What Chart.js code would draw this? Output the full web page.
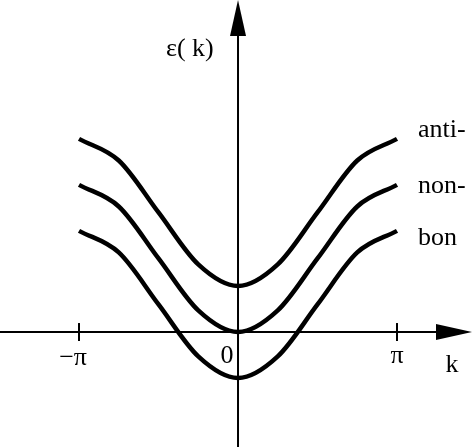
<!DOCTYPE html>
<html><head><meta charset="utf-8">
<script src="https://cdn.jsdelivr.net/npm/chart.js@4"></script>
<style>html,body{margin:0;padding:0;background:#fff}#w{width:474px;height:447px}</style>
</head><body><div id="w"><canvas id="c"></canvas></div>
<script>
const PI = Math.PI;
const kValues = [-PI, -0.75*PI, -0.5*PI, -0.25*PI, 0, 0.25*PI, 0.5*PI, 0.75*PI, PI];
const antiBonding = [4.2, 3.73, 2.6, 1.47, 1.0, 1.47, 2.6, 3.73, 4.2];
const nonBonding  = [3.2, 2.73, 1.6, 0.47, 0.0, 0.47, 1.6, 2.73, 3.2];
const bonding     = [2.2, 1.73, 0.6, -0.53, -1.0, -0.53, 0.6, 1.73, 2.2];
const seriesLabels = ['anti-', 'non-', 'bon'];
const tickLabels = ['\u2212\u03c0', '0', '\u03c0'];
const yTitle = '\u03b5( k)';
const xTitle = 'k';

const mk = (arr) => ({data: kValues.map((k,i)=>({x:k,y:arr[i]})), borderColor:'#000', borderWidth:4.5,
  pointRadius:0, fill:false, cubicInterpolationMode:'monotone'});

const deco = {
  id:'deco',
  afterDatasetsDraw(chart){
    const {ctx, scales:{x,y}} = chart;
    const x0 = x.getPixelForValue(0), y0 = y.getPixelForValue(0);
    ctx.save();
    ctx.strokeStyle='#000'; ctx.fillStyle='#000'; ctx.lineWidth=2;
    ctx.beginPath(); ctx.moveTo(0,y0); ctx.lineTo(455,y0); ctx.stroke();
    ctx.beginPath(); ctx.moveTo(x0,447); ctx.lineTo(x0,18); ctx.stroke();
    ctx.beginPath(); ctx.moveTo(472,y0); ctx.lineTo(436,y0-8); ctx.lineTo(436,y0+8); ctx.closePath(); ctx.fill();
    ctx.beginPath(); ctx.moveTo(x0,0); ctx.lineTo(x0-8,36); ctx.lineTo(x0+8,36); ctx.closePath(); ctx.fill();
    [-PI,PI].forEach(v=>{const px=x.getPixelForValue(v); ctx.beginPath(); ctx.moveTo(px,y0-9); ctx.lineTo(px,y0+9); ctx.stroke();});
    ctx.font='26px "Liberation Serif"'; ctx.textBaseline='alphabetic';
    ctx.textAlign='center';
    ctx.fillText(tickLabels[0], x.getPixelForValue(-PI)-6, y0+33);
    ctx.fillText(tickLabels[1], x0-11, y0+31);
    ctx.fillText(tickLabels[2], x.getPixelForValue(PI), y0+31);
    ctx.fillText(xTitle, 452, y0+40);
    ctx.textAlign='left';
    ctx.fillText(yTitle, 166, 56);
    ctx.fillText(seriesLabels[0], 418, y.getPixelForValue(antiBonding[8])+-2);
    ctx.fillText(seriesLabels[1], 418, y.getPixelForValue(nonBonding[8])+8);
    ctx.fillText(seriesLabels[2], 418, y.getPixelForValue(bonding[8])+14);
    ctx.restore();
  }
};

new Chart(document.getElementById('c'), {
  type:'line',
  data:{datasets:[mk(antiBonding), mk(nonBonding), mk(bonding)]},
  options:{responsive:true, maintainAspectRatio:false, animation:false,
    layout:{padding:0},
    plugins:{legend:{display:false}, tooltip:{enabled:false}},
    scales:{
      x:{type:'linear', min:-4.703, max:4.663, display:false},
      y:{min:-2.5, max:7.22, display:false}
    }},
  plugins:[deco]
});
</script></body></html>
